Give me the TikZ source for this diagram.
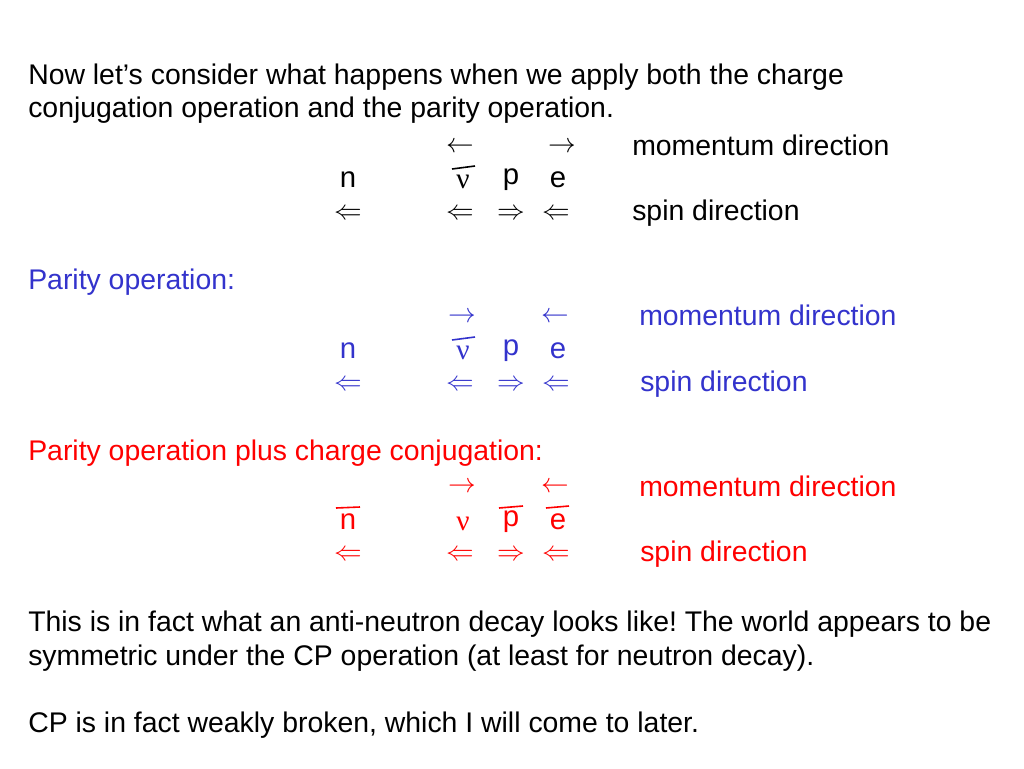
\documentclass[tikz,border=0pt]{standalone}
\usepackage{fontspec}
\setmainfont{Liberation Sans}
\newfontfamily\serf{Liberation Serif}
\frenchspacing
\begin{document}
\begin{tikzpicture}[x=0.75pt,y=-0.75pt,
  txt/.style={anchor=west,inner sep=0pt,font=\fontsize{21.3}{25}\selectfont},
  sym/.style={inner sep=0pt,font=\fontsize{22}{25}\selectfont},
  bar/.style={line width=1.2pt}]
\definecolor{myblue}{RGB}{51,51,204}
\newcommand{\nuu}{{\serf ν}}
\useasboundingbox (0,0) rectangle (1024,768);
\begin{scope}[yshift=-1.5pt]
\node[txt] (l1) at (28,75) {Now let’s consider what happens when we apply both the charge};
\node[txt] (l2) at (28,108) {conjugation operation and the parity operation.};
% block 1
\node[sym] (a1) at (460,145) {$\leftarrow$};
\node[sym] (a2) at (562,145) {$\rightarrow$};
\node[txt] (m1) at (632,143) {momentum direction};
\node[sym] (n1) at (348,178) {n};
\node[sym] (v1) at (463,180) {\nuu};
\node[sym] (p1) at (511,178) {p};
\node[sym] (e1) at (558,178) {e};
\draw[bar] (452,167) -- (475,164);
\node[sym] (s1) at (348,212) {$\Leftarrow$};
\node[sym] (s2) at (460,212) {$\Leftarrow$};
\node[sym] (s3) at (511,212) {$\Rightarrow$};
\node[sym] (s4) at (556,212) {$\Leftarrow$};
\node[txt] (sd1) at (632,211) {spin direction};
% block 2
\begin{scope}[myblue]
\node[txt,text=myblue] (h2) at (28,280) {Parity operation:};
\node[sym] (b1) at (462,315) {$\rightarrow$};
\node[sym] (b2) at (555,315) {$\leftarrow$};
\node[txt] (m2) at (639,313) {momentum direction};
\node[sym] (n2) at (348,349) {n};
\node[sym] (v2) at (463,351) {\nuu};
\node[sym] (p2) at (511,349) {p};
\node[sym] (e2) at (558,349) {e};
\draw[bar] (452,338) -- (475,335);
\node[sym] (t1) at (348,383) {$\Leftarrow$};
\node[sym] (t2) at (460,383) {$\Leftarrow$};
\node[sym] (t3) at (511,383) {$\Rightarrow$};
\node[sym] (t4) at (556,383) {$\Leftarrow$};
\node[txt] (sd2) at (640,382) {spin direction};
\end{scope}
% block 3
\begin{scope}[red]
\node[txt,text=red] (h3) at (28,451) {Parity operation plus charge conjugation:};
\node[sym] (c1) at (462,485) {$\rightarrow$};
\node[sym] (c2) at (555,485) {$\leftarrow$};
\node[txt] (m3) at (639,484) {momentum direction};
\node[sym] (n3) at (348,520) {n};
\node[sym] (v3) at (463,522) {\nuu};
\node[sym] (p3) at (511,520) {p};
\node[sym] (e3) at (558,520) {e};
\draw[bar] (336,506) -- (360,505);
\draw[bar] (499,506) -- (523,504);
\draw[bar] (546,506) -- (569,504);
\node[sym] (u1) at (348,553) {$\Leftarrow$};
\node[sym] (u2) at (460,553) {$\Leftarrow$};
\node[sym] (u3) at (511,553) {$\Rightarrow$};
\node[sym] (u4) at (556,553) {$\Leftarrow$};
\node[txt] (sd3) at (640,552) {spin direction};
\end{scope}
\node[txt] (l3) at (28,622) {This is in fact what an anti-neutron decay looks like! The world appears to be};
\node[txt] (l4) at (28,656) {symmetric under the CP operation (at least for neutron decay).};
\node[txt] (l5) at (28,723) {CP is in fact weakly broken, which I will come to later.};
\end{scope}
\end{tikzpicture}
\end{document}
